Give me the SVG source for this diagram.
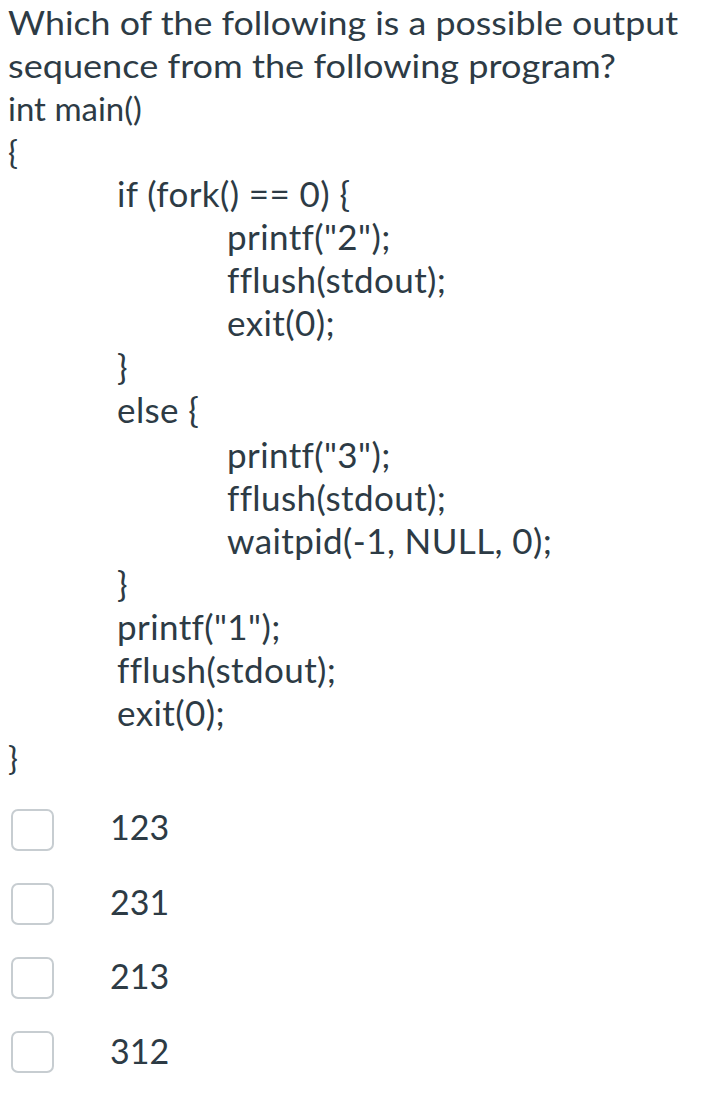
<svg xmlns="http://www.w3.org/2000/svg" width="720" height="1117" viewBox="0 0 720 1117">
<style>
text{font-family:Lato,"Open Sans",sans-serif;font-size:33px;fill:#2d3b45}
.c{font-size:35px;letter-spacing:0.4px}
.o{font-size:34px}
.cb{fill:#fff;stroke:#c7cdd1;stroke-width:2}
</style>
<rect width="720" height="1117" fill="#fff"/>
<g id="question">
<text x="8" y="35" textLength="670" lengthAdjust="spacingAndGlyphs">Which of the following is a possible output</text>
<text x="8" y="78" textLength="608" lengthAdjust="spacingAndGlyphs">sequence from the following program?</text>
<text x="8" y="121">int main()</text>
<text x="8" y="164">{</text>
<text class="c" x="117" y="207">if (fork() == 0) {</text>
<text class="c" x="227" y="250">printf("2");</text>
<text class="c" x="227" y="293">fflush(stdout);</text>
<text class="c" x="227" y="336">exit(0);</text>
<text class="c" x="117" y="380">}</text>
<text class="c" x="117" y="423">else {</text>
<text class="c" x="227" y="468">printf("3");</text>
<text class="c" x="227" y="511">fflush(stdout);</text>
<text class="c" x="227" y="554">waitpid(-1, NULL, 0);</text>
<text class="c" x="117" y="597">}</text>
<text class="c" x="117" y="640">printf("1");</text>
<text class="c" x="117" y="683">fflush(stdout);</text>
<text class="c" x="117" y="726">exit(0);</text>
<text x="8" y="770">}</text>
</g>
<g id="opt1"><rect class="cb" x="12" y="810" width="41" height="40" rx="6"/><text class="o" x="110" y="840">123</text></g>
<g id="opt2"><rect class="cb" x="12" y="884" width="41" height="40" rx="6"/><text class="o" x="110" y="915">231</text></g>
<g id="opt3"><rect class="cb" x="12" y="958" width="41" height="40" rx="6"/><text class="o" x="110" y="989">213</text></g>
<g id="opt4"><rect class="cb" x="12" y="1032" width="41" height="40" rx="6"/><text class="o" x="110" y="1064">312</text></g>
</svg>
